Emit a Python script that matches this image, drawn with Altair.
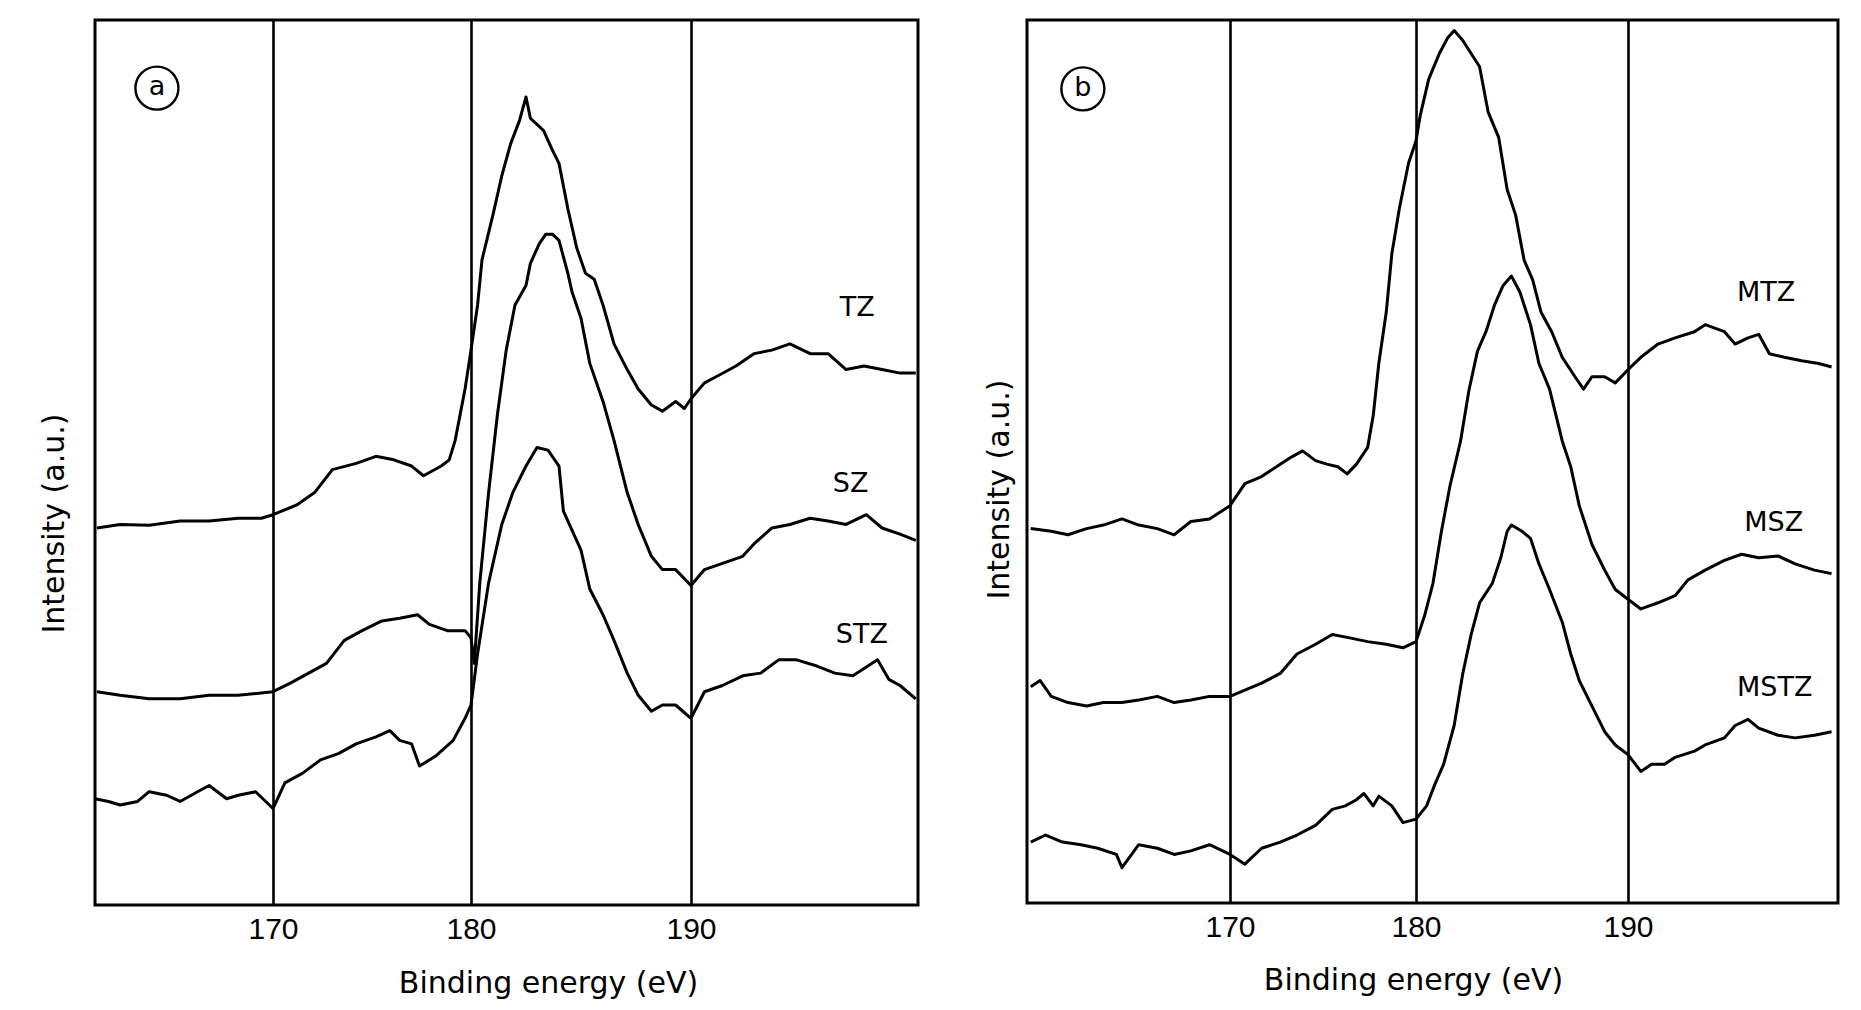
import altair as alt
import pandas as pd

# ---------------- Panel (a) ----------------
tz_e = [160.9, 162.1, 163.6, 165.2, 166.7, 168.2, 169.4, 170.0, 171.2, 172.1,
        173.0, 174.2, 175.2, 176.1, 177.0, 177.6, 178.5, 178.9, 179.2, 179.7,
        180.0, 180.3, 180.5, 181.0, 181.4, 181.8, 182.2, 182.5, 182.7, 183.3,
        183.7, 184.0, 184.4, 184.8, 185.2, 185.6, 186.0, 186.5, 187.1, 187.6,
        188.2, 188.7, 189.3, 189.7, 190.0, 190.6, 191.2, 192.0, 192.8, 193.6,
        194.4, 195.3, 196.1, 196.9, 197.7, 198.5, 199.3, 200.0]
tz_i = [42.6, 43.0, 42.9, 43.4, 43.4, 43.7, 43.7, 44.1, 45.2, 46.6,
        49.2, 49.9, 50.7, 50.3, 49.6, 48.5, 49.6, 50.3, 52.5, 58.3,
        62.7, 67.8, 72.9, 78.0, 82.4, 86.0, 88.6, 91.3, 88.9, 87.5,
        85.3, 83.8, 78.7, 74.3, 71.4, 70.7, 67.8, 63.4, 60.5, 58.3,
        56.5, 55.8, 56.9, 56.1, 57.2, 59.0, 59.8, 60.9, 62.3, 62.7,
        63.4, 62.3, 62.3, 60.5, 60.9, 60.5, 60.1, 60.1]

sz_e = [160.9, 162.1, 163.6, 165.2, 166.7, 168.2, 170.0, 170.9, 171.8, 172.7,
        173.6, 174.5, 175.5, 176.4, 177.3, 177.9, 178.8, 179.7, 180.0, 180.15,
        180.4, 180.8, 181.2, 181.6, 182.0, 182.5, 182.7, 183.1, 183.4, 183.7,
        184.0, 184.4, 184.6, 185.0, 185.4, 186.0, 186.5, 187.1, 187.6, 188.2,
        188.7, 189.3, 190.0, 190.6, 191.4, 192.3, 192.8, 193.6, 194.4, 195.3,
        196.1, 196.9, 197.8, 198.5, 199.3, 200.0]
sz_i = [24.1, 23.7, 23.3, 23.3, 23.7, 23.7, 24.1, 25.1, 26.2, 27.3,
        29.9, 31.0, 32.1, 32.4, 32.8, 31.7, 31.0, 31.0, 30.2, 27.3,
        36.4, 46.6, 55.4, 62.7, 67.8, 70.0, 72.5, 74.7, 75.8, 75.8,
        75.1, 71.4, 69.2, 66.3, 61.2, 56.9, 52.5, 46.6, 43.0, 39.4,
        37.9, 37.9, 36.1, 37.9, 38.6, 39.4, 40.8, 42.6, 43.0, 43.7,
        43.4, 43.0, 44.1, 42.6, 41.9, 41.2]

stz_e = [160.8, 161.5, 162.1, 163.0, 163.6, 164.5, 165.2, 166.1, 166.7, 167.6,
         168.2, 169.1, 170.0, 170.6, 171.5, 172.4, 173.3, 174.2, 175.2, 175.9,
         176.4, 177.0, 177.4, 178.2, 179.1, 179.7, 180.0, 180.3, 180.8, 181.4,
         181.9, 182.5, 183.0, 183.5, 184.0, 184.2, 184.6, 185.0, 185.4, 186.0,
         186.5, 187.1, 187.6, 188.2, 188.7, 189.3, 190.0, 190.6, 191.4, 192.3,
         193.1, 193.9, 194.7, 195.6, 196.4, 197.2, 198.3, 198.8, 199.3, 200.0]
stz_i = [12.0, 11.7, 11.3, 11.7, 12.8, 12.4, 11.7, 12.8, 13.5, 12.0,
         12.4, 12.8, 10.9, 13.8, 14.9, 16.4, 17.1, 18.2, 19.0, 19.7,
         18.6, 18.2, 15.7, 16.8, 18.6, 21.1, 22.6, 28.4, 36.4, 43.0,
         46.6, 49.6, 51.7, 51.4, 49.6, 44.5, 42.3, 40.1, 35.7, 32.8,
         29.9, 26.2, 23.7, 21.9, 22.6, 22.6, 21.1, 24.1, 24.8, 25.9,
         26.2, 27.7, 27.7, 27.0, 26.2, 25.9, 27.7, 25.5, 24.8, 23.3]

# ---------------- Panel (b) ----------------
mtz_e = [159.3, 160.4, 161.3, 162.3, 163.2, 164.2, 165.1, 166.1, 167.0, 167.9,
         168.9, 169.5, 170.0, 170.8, 171.7, 172.7, 173.3, 173.9, 174.6, 175.2,
         175.8, 176.3, 176.8, 177.4, 177.7, 178.0, 178.4, 178.7, 179.1, 179.6,
         180.0, 180.2, 180.6, 181.1, 181.5, 181.8, 182.2, 182.6, 183.0, 183.4,
         183.9, 184.3, 184.7, 185.1, 185.5, 185.9, 186.4, 186.9, 187.5, 187.9,
         188.3, 188.9, 189.4, 190.0, 190.6, 191.4, 192.2, 193.1, 193.6, 194.5,
         195.0, 195.6, 196.1, 196.6, 197.3, 198.1, 198.9, 199.5]
mtz_i = [42.4, 42.1, 41.7, 42.4, 42.8, 43.5, 42.8, 42.4, 41.7, 43.2,
         43.5, 44.3, 45.0, 47.5, 48.3, 49.7, 50.5, 51.2, 50.1, 49.7,
         49.4, 48.6, 49.7, 51.6, 55.2, 61.1, 66.9, 73.5, 78.6, 83.8,
         86.3, 89.2, 93.3, 96.2, 98.0, 98.8, 97.7, 96.2, 94.7, 89.6,
         86.7, 80.8, 77.9, 72.8, 70.6, 66.9, 64.7, 61.8, 59.6, 58.2,
         59.6, 59.6, 58.9, 60.4, 61.8, 63.3, 64.0, 64.7, 65.5, 64.7,
         63.3, 64.0, 64.4, 62.2, 61.8, 61.4, 61.1, 60.7]

msz_e = [159.3, 159.8, 160.4, 161.3, 162.3, 163.2, 164.2, 165.1, 166.1, 167.0,
         167.9, 168.9, 170.0, 170.8, 171.7, 172.7, 173.6, 174.6, 175.5, 176.5,
         177.4, 178.4, 179.3, 180.0, 180.4, 180.8, 181.2, 181.6, 182.1, 182.5,
         182.9, 183.3, 183.7, 184.1, 184.5, 184.9, 185.4, 185.8, 186.3, 186.9,
         187.3, 187.7, 188.3, 188.9, 189.4, 190.0, 190.6, 191.4, 192.2, 192.8,
         193.6, 194.5, 195.3, 196.1, 197.0, 197.8, 198.7, 199.5]
msz_i = [24.5, 25.2, 23.4, 22.7, 22.3, 22.7, 22.7, 23.0, 23.4, 22.7,
         23.0, 23.4, 23.4, 24.1, 24.9, 26.0, 28.2, 29.3, 30.4, 30.0,
         29.6, 29.3, 28.9, 29.6, 32.5, 36.2, 42.1, 47.2, 52.3, 58.1,
         62.5, 64.7, 67.7, 69.9, 71.0, 69.2, 65.5, 61.1, 58.2, 52.3,
         49.4, 45.0, 40.6, 37.7, 35.5, 34.4, 33.3, 34.0, 34.8, 36.6,
         37.7, 38.8, 39.5, 39.1, 39.3, 38.4, 37.7, 37.3]

mstz_e = [159.3, 160.1, 161.0, 162.0, 162.9, 163.9, 164.2, 165.1, 166.1, 167.0,
          167.9, 168.9, 170.0, 170.8, 171.7, 172.7, 173.6, 174.6, 175.5, 176.2,
          176.8, 177.2, 177.7, 178.0, 178.7, 179.3, 180.0, 180.5, 180.9, 181.3,
          181.8, 182.2, 182.6, 183.0, 183.6, 184.0, 184.3, 184.5, 185.0, 185.4,
          185.8, 186.3, 186.9, 187.3, 187.7, 188.3, 188.9, 189.4, 190.0, 190.6,
          191.1, 191.7, 192.2, 193.1, 193.6, 194.5, 195.0, 195.6, 196.1, 197.0,
          197.8, 198.7, 199.5]
mstz_i = [6.9, 7.7, 6.9, 6.6, 6.2, 5.5, 4.0, 6.6, 6.2, 5.5,
          5.9, 6.6, 5.5, 4.4, 6.2, 6.9, 7.7, 8.8, 10.6, 11.0,
          11.7, 12.4, 11.0, 12.1, 11.0, 9.1, 9.5, 11.0, 13.5, 15.7,
          20.1, 25.9, 30.4, 34.0, 36.2, 39.1, 42.1, 42.8, 42.1, 41.3,
          38.4, 35.5, 31.8, 28.2, 25.2, 22.3, 19.4, 17.9, 16.8, 14.9,
          15.7, 15.7, 16.5, 17.2, 17.9, 18.7, 20.1, 20.8, 19.8, 19.0,
          18.7, 19.0, 19.4]

# Curve labels and panel tags
a_labels = ["TZ", "SZ", "STZ"]
a_label_e = [197.4, 197.1, 197.6]
a_label_i = [67.5, 47.6, 30.5]
b_labels = ["MTZ", "MSZ", "MSTZ"]
b_label_e = [196.45, 196.8, 196.85]
b_label_i = [69.1, 43.0, 24.4]
tags = ["a", "b"]
tag_e = [164.0, 162.1]
tag_i = [92.3, 92.2]

xticks = [170, 180, 190]
TXT = "DejaVu Sans"


def lines_df(names, es, is_):
    frames = []
    for n, e, i in zip(names, es, is_):
        frames.append(pd.DataFrame({"energy": e, "intensity": i, "series": n}))
    return pd.concat(frames, ignore_index=True)


def panel(ldf, lab_txt, lab_e, lab_i, tag, te, ti, xdom, xrng, W, H,
          ytx, yty, xtx, xty):
    xenc = alt.X("energy:Q",
                 scale=alt.Scale(domain=xdom, range=xrng, nice=False, zero=False),
                 axis=alt.Axis(values=xticks, grid=True, ticks=False, domain=False,
                               labelPadding=9, format="d",
                               title="Binding energy (eV)", titleX=xtx, titleY=xty,
                               titleAlign="center", titleBaseline="alphabetic"))
    yenc = alt.Y("intensity:Q",
                 scale=alt.Scale(domain=[0, 100], nice=False, zero=False),
                 axis=alt.Axis(labels=False, ticks=False, domain=False, grid=False,
                               title="Intensity (a.u.)", titleX=ytx, titleY=yty,
                               titleAngle=270, titleAlign="center",
                               titleBaseline="middle"))
    lines = alt.Chart(ldf).mark_line(color="black", strokeWidth=3,
                                     strokeJoin="round").encode(
        x=xenc, y=yenc, detail="series:N", order="energy:Q")
    ldf2 = pd.DataFrame({"energy": lab_e, "intensity": lab_i, "txt": lab_txt})
    labels = alt.Chart(ldf2).mark_text(font=TXT, fontSize=27, color="black",
                                       align="center", baseline="middle").encode(
        x=xenc, y=yenc, text="txt:N")
    tdf = pd.DataFrame({"energy": [te], "intensity": [ti], "txt": [tag]})
    circ = alt.Chart(tdf).mark_point(shape="circle", size=1850, filled=False,
                                     color="black", strokeWidth=2.4,
                                     opacity=1).encode(x=xenc, y=yenc)
    ttxt = alt.Chart(tdf).mark_text(font=TXT, fontSize=27, color="black",
                                    align="center", baseline="middle", dy=-1).encode(
        x=xenc, y=yenc, text="txt:N")
    return alt.layer(lines, labels, circ, ttxt).properties(width=W, height=H)


dfa = lines_df(["TZ", "SZ", "STZ"], [tz_e, sz_e, stz_e], [tz_i, sz_i, stz_i])
dfb = lines_df(["MTZ", "MSZ", "MSTZ"], [mtz_e, msz_e, mstz_e], [mtz_i, msz_i, mstz_i])

pa = panel(dfa, a_labels, a_label_e, a_label_i, tags[0], tag_e[0], tag_i[0],
           [160.8, 170, 180, 190, 200.1], [0, 178, 376, 596, 823], 823, 885,
           -41, 503, 453, 87)
pb = panel(dfb, b_labels, b_label_e, b_label_i, tags[1], tag_e[1], tag_i[1],
           [159.1, 170, 180, 190, 199.8], [0, 203, 389, 601, 811], 811, 883,
           -28, 469, 386, 86)

chart = alt.hconcat(pa, pb, spacing=62).properties(
    padding={"left": 37, "top": 18, "right": 0, "bottom": 0},
    background="white",
).configure_view(
    stroke="black", strokeWidth=3
).configure_axis(
    gridColor="black", gridWidth=2.6, gridOpacity=1,
    labelFont="Liberation Sans", labelFontSize=30, labelColor="black",
    titleFont=TXT, titleFontSize=30, titleColor="black", titleFontWeight="normal",
)

chart.save("out.html", embed_options={"renderer": "svg", "actions": False})
